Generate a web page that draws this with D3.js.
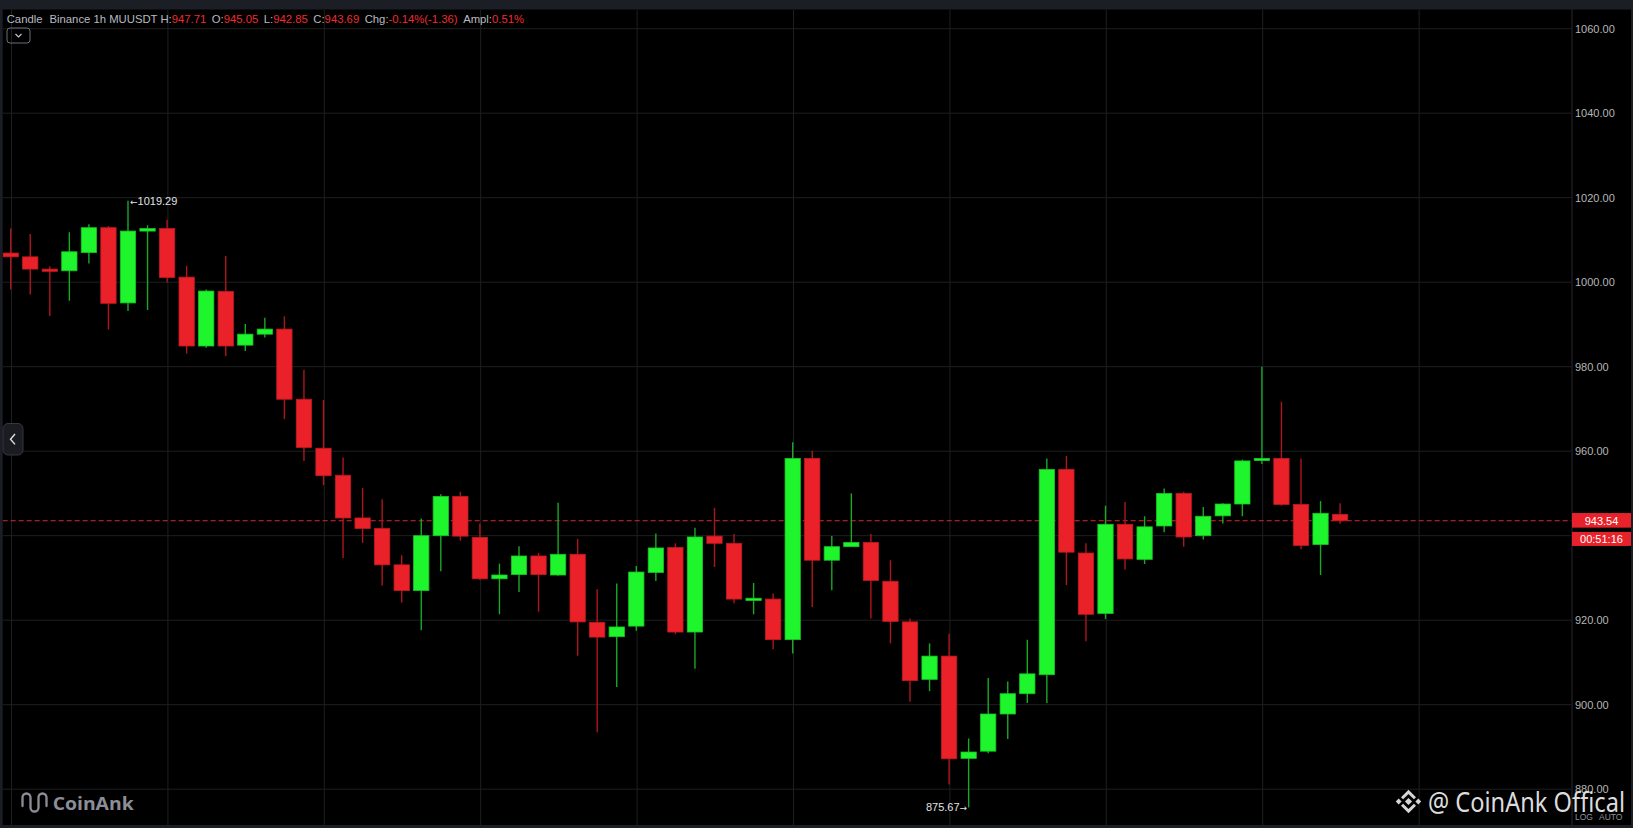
<!DOCTYPE html>
<html>
<head>
<meta charset="utf-8">
<script src="https://cdn.jsdelivr.net/npm/d3@7/dist/d3.min.js"></script>
<style>
  html, body { margin: 0; padding: 0; background: #000; overflow: hidden; }
  svg { display: block; }
</style>
</head>
<body>
<svg id="chart" width="1633" height="828"></svg>
<script>
// ---------------- DATA ----------------
const opens  = [1006.9,1006.0,1003.1,1002.7,1007.0,1012.9,995.1,1012.1,1012.7,1001.2,
                984.9,997.8,985.1,987.7,988.9,972.3,960.7,954.3,944.2,941.7,
                933.1,927.0,940.0,949.3,939.6,929.8,930.8,935.2,930.7,935.6,
                919.5,916.1,918.6,931.3,937.2,917.2,939.9,938.2,925.0,925.0,
                915.4,958.3,934.2,937.4,938.4,929.2,919.6,906.0,911.5,887.3,
                889.0,897.8,902.6,907.1,955.7,935.9,921.6,942.7,934.4,942.3,
                950.0,940.0,944.7,947.5,957.8,958.3,947.4,937.9,945.05];
const highs  = [1012.7,1011.4,1003.8,1011.8,1013.7,1013.3,1019.29,1013.5,1014.8,1003.9,
                998.3,1006.2,990.1,991.6,991.9,979.3,972.1,958.5,951.3,948.6,
                935.4,944.1,949.8,950.4,942.9,933.4,937.5,935.9,947.8,939.2,
                927.3,928.7,932.8,940.5,938.2,941.9,946.6,940.4,928.8,926.3,
                962.1,960.1,939.9,950.0,940.4,934.2,920.4,914.5,916.8,892.0,
                906.3,905.5,915.4,958.3,958.9,938.2,947.1,948.0,944.6,951.2,
                950.4,946.8,947.7,958.0,980.0,971.7,958.3,948.2,947.71];
const lows   = [998.3,997.1,992.0,995.6,1004.4,988.8,993.2,993.4,999.9,983.1,
                984.5,982.5,983.7,986.9,967.6,957.7,952.0,934.7,938.3,928.2,
                924.2,917.6,931.6,938.8,929.5,921.4,926.7,922.0,930.5,911.6,
                893.5,904.2,917.5,929.3,916.7,908.5,932.6,924.0,921.4,913.1,
                912.1,923.1,927.1,937.4,920.4,914.5,900.7,903.2,881.1,875.67,
                888.5,891.9,900.4,900.4,928.3,915.0,920.3,932.0,933.3,940.8,
                937.4,939.1,942.9,944.6,957.0,947.1,936.8,930.7,942.85];
const closes = [1006.0,1003.1,1002.7,1007.2,1012.9,995.0,1012.1,1012.7,1001.1,984.9,
                997.9,984.9,987.7,988.9,972.3,960.9,954.2,944.2,941.7,933.1,
                927.0,940.0,949.3,939.9,929.8,930.7,935.2,930.8,935.6,919.6,
                916.0,918.4,931.4,937.1,917.2,939.7,938.2,925.0,925.2,915.4,
                958.3,934.2,937.4,938.4,929.4,919.7,905.7,911.5,887.2,888.8,
                897.8,902.6,907.3,955.7,936.1,921.4,942.7,934.5,942.1,950.0,
                939.7,944.6,947.5,957.7,958.3,947.4,937.7,945.3,943.54];

const priceTicks = [1060, 1040, 1020, 1000, 980, 960, 940, 920, 900, 880];
const lastPrice = 943.54;
const countdown = "00:51:16";
const maxLabel = {index: 6, value: 1019.29};
const minLabel = {index: 49, value: 875.67};

const headerLabels = ["Candle", "Binance 1h MUUSDT", "H:", "O:", "L:", "C:", "Chg:", "Ampl:"];
const headerValues = ["947.71", "945.05", "942.85", "943.69", "-0.14%(-1.36)", "0.51%"];
const brandLeft = "CoinAnk";
const brandRight = "@ CoinAnk Offical";

// ---------------- LAYOUT ----------------
const W = 1633, H = 828;
const plotL = 2.7, plotR = 1571.5, plotT = 9.5, plotB = 825;
const GREEN = "#1ef52c", GREEN_W = "#1aa826";
const RED = "#ea2128", RED_W = "#ad161c";
const GRID = "#1e1f22";
const FONT = "'Liberation Sans', Arial, sans-serif";

const svg = d3.select("#chart");
const candles = opens.map((o, i) => ({i, o, h: highs[i], l: lows[i], c: closes[i]}));

const x = d3.scaleLinear().domain([0, 68]).range([10.7, 10.7 + 68 * 19.55]);
const y = d3.scaleLinear().domain([880, 1060]).range([789.2, 28.7]);
const bodyW = 15.3;

// background / frame
svg.append("rect").attr("width", W).attr("height", H).attr("fill", "#000");
svg.append("rect").attr("x", 0).attr("y", 0).attr("width", W).attr("height", plotT).attr("fill", "#1b1e25");
svg.append("rect").attr("x", 0).attr("y", 0).attr("width", plotL).attr("height", H).attr("fill", "#1b1e25");
svg.append("rect").attr("x", 0).attr("y", plotB).attr("width", W).attr("height", H - plotB).attr("fill", "#1b1e25");
svg.append("rect").attr("x", 1631).attr("y", 0).attr("width", 2).attr("height", H).attr("fill", "#1b1e25");

const defs = svg.append("defs");
defs.append("clipPath").attr("id", "plotclip").append("rect")
  .attr("x", plotL).attr("y", plotT).attr("width", plotR - plotL).attr("height", plotB - plotT);

const plot = svg.append("g").attr("clip-path", "url(#plotclip)");

// grid
const vIdx = d3.range(0, 80, 8);
plot.append("g").selectAll("line").data(vIdx).join("line")
  .attr("x1", d => x(d) + 0.8).attr("x2", d => x(d) + 0.8)
  .attr("y1", plotT).attr("y2", plotB)
  .attr("stroke", GRID).attr("stroke-width", 1);
plot.append("g").selectAll("line").data(priceTicks).join("line")
  .attr("x1", plotL).attr("x2", plotR)
  .attr("y1", d => y(d)).attr("y2", d => y(d))
  .attr("stroke", GRID).attr("stroke-width", 1);

// price line
plot.append("line")
  .attr("x1", plotL).attr("x2", plotR)
  .attr("y1", y(lastPrice)).attr("y2", y(lastPrice))
  .attr("stroke", "#d8262c").attr("stroke-width", 1)
  .attr("stroke-dasharray", "5,3");

// candles
const cg = plot.append("g").selectAll("g").data(candles).join("g");
cg.append("line")
  .attr("x1", d => x(d.i)).attr("x2", d => x(d.i))
  .attr("y1", d => y(d.h)).attr("y2", d => y(d.l))
  .attr("stroke", d => d.c >= d.o ? GREEN_W : RED_W)
  .attr("stroke-width", 1.4);
cg.append("rect")
  .attr("x", d => x(d.i) - bodyW / 2)
  .attr("width", bodyW)
  .attr("y", d => y(Math.max(d.o, d.c)))
  .attr("height", d => Math.max(2.2, Math.abs(y(d.o) - y(d.c))))
  .attr("fill", d => d.c >= d.o ? GREEN : RED)
  .attr("stroke", d => d.c >= d.o ? "#17c424" : "#c01a20")
  .attr("stroke-width", 0.8);

// max / min annotations
const maxT = plot.append("text")
  .attr("x", x(maxLabel.index) + 2).attr("y", y(maxLabel.value))
  .attr("dy", "0.35em")
  .attr("fill", "#e2e2e2").attr("font-size", 11).attr("font-family", FONT);
maxT.append("tspan").attr("font-family", "'DejaVu Sans', sans-serif").attr("font-size", 9).text("\u2190");
maxT.append("tspan").text(maxLabel.value.toFixed(2));
const minT = plot.append("text")
  .attr("x", x(minLabel.index) - 1.5).attr("y", y(minLabel.value))
  .attr("dy", "0.35em").attr("text-anchor", "end")
  .attr("fill", "#e2e2e2").attr("font-size", 11).attr("font-family", FONT);
minT.append("tspan").text(minLabel.value.toFixed(2));
minT.append("tspan").attr("font-family", "'DejaVu Sans', sans-serif").attr("font-size", 9).text("\u2192");

// right axis
svg.append("line").attr("x1", plotR + 0.5).attr("x2", plotR + 0.5)
  .attr("y1", plotT).attr("y2", plotB).attr("stroke", "#2a2b30");
const axisG = svg.append("g").attr("transform", `translate(${plotR},0)`);
const yAxis = d3.axisRight(y).tickValues(priceTicks).tickSize(0).tickPadding(3.5)
  .tickFormat(d => d.toFixed(2));
axisG.call(yAxis);
axisG.select(".domain").remove();
axisG.attr("font-family", FONT).attr("font-size", 11);
axisG.selectAll("text").attr("fill", "#b6b6b6");

// current price labels
const pg = svg.append("g");
pg.append("rect").attr("x", 1572).attr("y", y(lastPrice) - 7.7).attr("width", 59).attr("height", 14.6)
  .attr("fill", "#e8222a");
pg.append("text").attr("x", 1601.5).attr("y", y(lastPrice)).attr("dy", "0.36em")
  .attr("text-anchor", "middle").attr("fill", "#fff").attr("font-size", 11).attr("font-family", FONT)
  .text(lastPrice.toFixed(2));
pg.append("rect").attr("x", 1572).attr("y", y(lastPrice) + 11.2).attr("width", 59).attr("height", 14)
  .attr("fill", "#e8222a");
pg.append("text").attr("x", 1601.5).attr("y", y(lastPrice) + 18.2).attr("dy", "0.36em")
  .attr("text-anchor", "middle").attr("fill", "#fff").attr("font-size", 11).attr("font-family", FONT)
  .text(countdown);

// LOG / AUTO
const la = svg.append("g").attr("font-family", FONT).attr("font-size", 8.5).attr("fill", "#8d9099");
la.append("text").attr("x", 1575).attr("y", 820).text("LOG");
la.append("text").attr("x", 1599).attr("y", 820).text("AUTO");

// header
const hdr = svg.append("text").attr("x", 6.7).attr("y", 23)
  .attr("font-family", FONT).attr("font-size", 11.3).attr("fill", "#b8bac0");
hdr.append("tspan").text(headerLabels[0]);
hdr.append("tspan").attr("dx", 7).text(headerLabels[1] + " ");
const pairs = headerLabels.slice(2).map((l, i) => [l, headerValues[i]]);
pairs.forEach((p, i) => {
  hdr.append("tspan").attr("dx", i === 0 ? 0 : 5.5).text(p[0]);
  hdr.append("tspan").attr("fill", "#f02b30").text(p[1]);
});

// dropdown button
svg.append("rect").attr("x", 7).attr("y", 28).attr("width", 23).attr("height", 15).attr("rx", 3)
  .attr("fill", "none").attr("stroke", "#6c6f77").attr("stroke-width", 1);
svg.append("path").attr("d", "M15.5,34 L18.5,37 L21.5,34").attr("fill", "none")
  .attr("stroke", "#c8c8c8").attr("stroke-width", 1.1);

// left collapse button
svg.append("rect").attr("x", 3).attr("y", 423.5).attr("width", 20).attr("height", 31.5).attr("rx", 5)
  .attr("fill", "#1a1c21").attr("stroke", "#34373e").attr("stroke-width", 1);
svg.append("path").attr("d", "M15,434 L10.5,439.2 L15,444.4").attr("fill", "none")
  .attr("stroke", "#e0e0e0").attr("stroke-width", 1.4);

// watermark left
svg.append("path")
  .attr("d", "M22.5,806 V797.5 a4,4 0 0 1 8,0 V807.5 a4,4 0 0 0 8,0 V797.5 a4,4 0 0 1 8,0 V806")
  .attr("fill", "none").attr("stroke", "#8c8e97").attr("stroke-width", 2.3).attr("stroke-linecap", "round");
svg.append("text").attr("x", 52.7).attr("y", 810)
  .attr("font-family", "'Open Sans', 'Noto Sans', sans-serif").attr("font-weight", "bold")
  .attr("font-size", 18.5).attr("textLength", 81).attr("lengthAdjust", "spacingAndGlyphs")
  .attr("fill", "#8c8e97").text(brandLeft);

// watermark right (Binance-like logo)
const bx = 1408.5, by = 801.5;
const blogo = svg.append("g").attr("fill", "#d6d6d6");
const diamond = (cx, cy, r) => `M${cx},${cy - r} L${cx + r},${cy} L${cx},${cy + r} L${cx - r},${cy} Z`;
blogo.append("path").attr("d", diamond(bx, by, 3.6));
blogo.append("path").attr("d", diamond(bx - 9.8, by, 2.9));
blogo.append("path").attr("d", diamond(bx + 9.8, by, 2.9));
blogo.append("path").attr("d",
  `M${bx - 7.5},${by - 4.3} L${bx},${by - 11.8} L${bx + 7.5},${by - 4.3} L${bx + 5.4},${by - 2.2} L${bx},${by - 7.6} L${bx - 5.4},${by - 2.2} Z`);
blogo.append("path").attr("d",
  `M${bx - 7.5},${by + 4.3} L${bx},${by + 11.8} L${bx + 7.5},${by + 4.3} L${bx + 5.4},${by + 2.2} L${bx},${by + 7.6} L${bx - 5.4},${by + 2.2} Z`);
svg.append("text").attr("x", 1428).attr("y", 811.7)
  .attr("font-family", "'Noto Sans', 'Open Sans', sans-serif")
  .attr("font-size", 27).attr("textLength", 197).attr("lengthAdjust", "spacingAndGlyphs")
  .attr("fill", "#dcdcdc").text(brandRight);
</script>
</body>
</html>
